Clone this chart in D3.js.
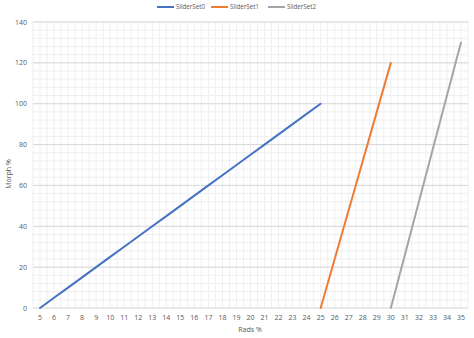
<!DOCTYPE html>
<html>
<head>
<meta charset="utf-8">
<script src="https://cdn.jsdelivr.net/npm/d3@7"></script>
<style>
  body { margin: 0; background: #fff; }
  text { font-family: "Open Sans", "Noto Sans", sans-serif; fill: #595959; }
</style>
</head>
<body>
<svg id="chart" width="474" height="338"></svg>
<script>
// data
const rads = [5,6,7,8,9,10,11,12,13,14,15,16,17,18,19,20,21,22,23,24,25,26,27,28,29,30,31,32,33,34,35];
const set0X = [5,6,7,8,9,10,11,12,13,14,15,16,17,18,19,20,21,22,23,24,25];
const set0Y = [0,5,10,15,20,25,30,35,40,45,50,55,60,65,70,75,80,85,90,95,100];
const set1X = [25,26,27,28,29,30];
const set1Y = [0,24,48,72,96,120];
const set2X = [30,31,32,33,34,35];
const set2Y = [0,26,52,78,104,130];
const seriesNames = ["SliderSet0", "SliderSet1", "SliderSet2"];
const colors = ["#4472C4", "#ED7D31", "#A5A5A5"];

const series = [
  set0X.map((x, i) => ({x: x, y: set0Y[i]})),
  set1X.map((x, i) => ({x: x, y: set1Y[i]})),
  set2X.map((x, i) => ({x: x, y: set2Y[i]}))
];

const svg = d3.select("#chart");
const plotL = 33, plotR = 468, plotT = 22, plotB = 308;

const x = d3.scaleLinear().domain([4.5, 35.5]).range([plotL, plotR]);
const y = d3.scaleLinear().domain([0, 140]).range([plotB, plotT]);

// minor grid
const g = svg.append("g");
g.selectAll("line.vminor")
  .data(d3.range(4.5, 35.6, 0.5))
  .enter().append("line")
  .attr("x1", d => x(d)).attr("x2", d => x(d))
  .attr("y1", plotT).attr("y2", plotB)
  .attr("stroke", "#efefef").attr("stroke-width", 1);
g.selectAll("line.hminor")
  .data(d3.range(0, 141, 4))
  .enter().append("line")
  .attr("x1", plotL).attr("x2", plotR)
  .attr("y1", d => y(d)).attr("y2", d => y(d))
  .attr("stroke", "#efefef").attr("stroke-width", 1);
// major grid
g.selectAll("line.hmajor")
  .data(y.ticks(7))
  .enter().append("line")
  .attr("x1", plotL).attr("x2", plotR)
  .attr("y1", d => y(d)).attr("y2", d => y(d))
  .attr("stroke", "#d9d9d9").attr("stroke-width", 1);

// y labels
svg.selectAll("text.ytick")
  .data(y.ticks(7))
  .enter().append("text")
  .attr("x", 27).attr("y", d => y(d) + 2.5)
  .attr("text-anchor", "end")
  .style("font-size", "7px")
  .text(d => d);

// x labels
svg.selectAll("text.xtick")
  .data(rads)
  .enter().append("text")
  .attr("x", d => x(d)).attr("y", 320)
  .attr("text-anchor", "middle")
  .style("font-size", "7px")
  .text(d => d);

// axis titles
svg.append("text")
  .attr("x", 250).attr("y", 332)
  .attr("text-anchor", "middle")
  .style("font-size", "7px")
  .text("Rads %");
svg.append("text")
  .attr("transform", "translate(11,174) rotate(-90)")
  .attr("text-anchor", "middle")
  .style("font-size", "7px")
  .text("Morph %");

// lines
const line = d3.line().x(d => x(d.x)).y(d => y(d.y));
svg.selectAll("path.series")
  .data(series)
  .enter().append("path")
  .attr("d", line)
  .attr("fill", "none")
  .attr("stroke", (d, i) => colors[i])
  .attr("stroke-width", 2)
  .attr("stroke-linecap", "round");

// legend
const legendX = [157, 211, 268];
const lg = svg.selectAll("g.legend")
  .data(seriesNames)
  .enter().append("g")
  .attr("transform", (d, i) => `translate(${legendX[i]},7)`);
lg.append("line")
  .attr("x1", 0).attr("x2", 17)
  .attr("stroke", (d, i) => colors[i])
  .attr("stroke-width", 2);
lg.append("text")
  .attr("x", 19).attr("y", 2.3)
  .style("font-size", "6.2px")
  .text(d => d);
</script>
</body>
</html>
